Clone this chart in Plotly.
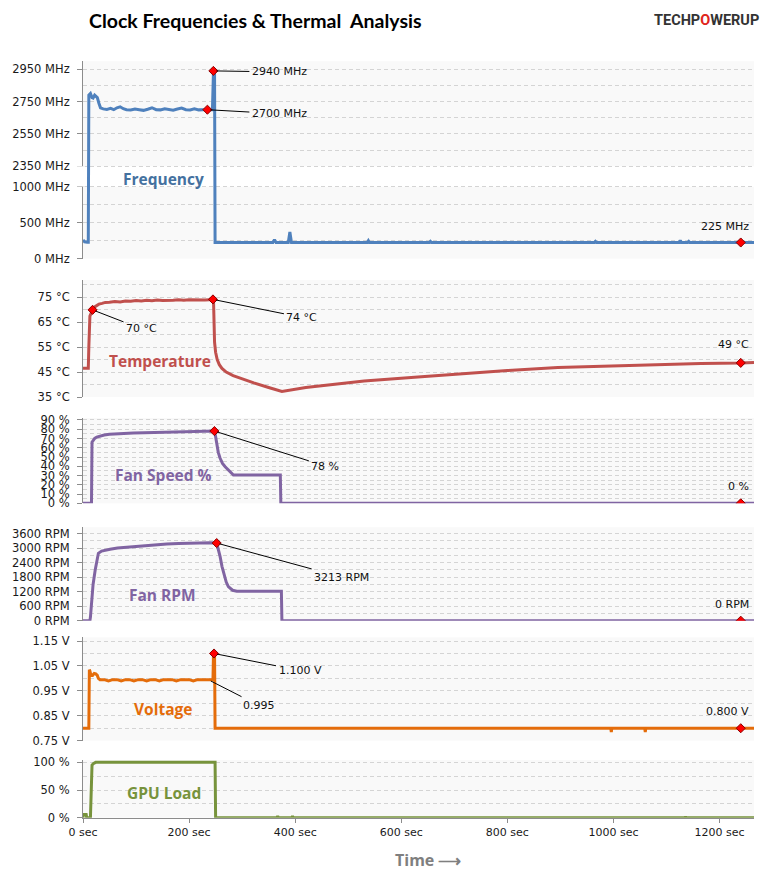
import plotly.graph_objects as go

W, H = 769, 881

# ---------------- data (time in seconds) ----------------
freq_points = [(0, 260), (3, 235), (8, 230), (10, 230), (11, 2790), (12, 2795), (14, 2800), (17, 2775),
               (19, 2772), (22, 2790), (24, 2785), (27, 2775), (30, 2740), (33, 2712), (38, 2705),
               (45, 2702), (52, 2708), (58, 2700), (64, 2712), (70, 2718), (76, 2706), (82, 2700),
               (90, 2698), (98, 2704), (106, 2700), (114, 2696), (122, 2703), (130, 2712), (138, 2700),
               (146, 2699), (154, 2706), (162, 2702), (170, 2697), (178, 2704), (186, 2710), (194, 2700),
               (202, 2698), (210, 2705), (218, 2699), (226, 2700), (234, 2700), (244, 2700), (246, 2940),
               (248, 2940), (249, 225), (255, 225), (300, 225), (358, 225), (361, 265), (364, 225),
               (387, 225), (390, 370), (393, 225), (536, 225), (538, 250), (540, 225), (653, 225),
               (655, 240), (657, 225), (964, 225), (966, 240), (968, 225), (1124, 225), (1126, 255),
               (1128, 225), (1140, 225), (1142, 240), (1144, 225), (1240, 225), (1265, 225)]

temp_points = [(0, 46.5), (10, 46.5), (11, 55), (12, 65), (13, 67.5), (15, 68.5), (18, 70), (22, 71.2),
               (26, 71.8), (30, 72.3), (36, 72.6), (42, 73.0), (50, 73.1), (60, 73.4), (70, 73.2),
               (80, 73.6), (90, 73.5), (100, 73.8), (110, 73.6), (120, 73.9), (130, 73.7), (140, 74.0),
               (150, 73.8), (160, 74.0), (170, 73.9), (180, 74.1), (190, 73.9), (200, 74.1), (210, 74.0),
               (220, 74.2), (230, 74.0), (238, 74.1), (246, 74.2), (248, 57), (250, 53), (253, 50),
               (257, 48), (262, 46.5), (270, 45), (283, 43.6), (300, 42.2), (322, 40.7), (350, 38.8),
               (375, 37.2), (420, 38.8), (470, 40.1), (530, 41.4), (625, 42.9), (700, 44.1), (800, 45.6),
               (895, 46.9), (1000, 47.6), (1100, 48.1), (1165, 48.5), (1240, 48.7), (1265, 48.9)]

fan_points = [(0, 0), (16, 0), (17, 66), (19, 68), (22, 70), (26, 71.5), (32, 72.7), (40, 73.8),
              (50, 74.6), (65, 75.2), (80, 75.6), (95, 75.9), (115, 76.3), (135, 76.6), (158, 77.0),
              (180, 77.4), (200, 77.8), (225, 78), (248, 78), (250, 72), (252, 65), (255, 55),
              (258.5, 48.6), (263, 43), (268, 39.5), (275, 35), (283.6, 30.6), (290, 30.5),
              (372, 30.5), (373, 0), (1265, 0)]

rpm_points = [(0, 0), (13, 0), (14, 150), (16, 850), (19, 1500), (23, 2100), (26, 2500), (29, 2790),
              (35, 2880), (42, 2920), (51, 2960), (65, 3010), (80, 3040), (95, 3065), (120, 3110),
              (140, 3150), (158, 3175), (180, 3200), (200, 3215), (221, 3228), (240, 3225), (252, 3213),
              (255, 3000), (258.5, 2650), (262, 2250), (265, 1960), (270, 1600), (274, 1410),
              (282, 1260), (290, 1220), (374, 1220), (375, 0), (1265, 0)]

volt_points = [(0, 0.80), (10, 0.80), (11, 0.80), (12, 1.035), (13, 1.03), (15, 1.012), (18, 1.012),
               (21, 1.02), (24, 1.018), (27, 1.012), (29, 1.0), (32, 0.995), (40, 0.995), (48, 0.99),
               (56, 0.995), (64, 0.995), (72, 0.99), (80, 0.995), (88, 0.995), (96, 0.99), (104, 0.995),
               (112, 0.995), (120, 0.99), (128, 0.995), (136, 0.995), (144, 0.99), (152, 0.995),
               (160, 0.995), (168, 0.995), (176, 0.99), (184, 0.995), (192, 0.995), (200, 0.995),
               (208, 0.99), (216, 0.995), (224, 0.995), (232, 0.995), (240, 0.995), (245, 0.995),
               (246, 1.10), (248, 1.10), (249, 0.80), (400, 0.80), (995, 0.80), (996, 0.785),
               (997, 0.80), (1059, 0.80), (1060, 0.785), (1061, 0.80), (1265, 0.80)]

gpu_points = [(0, 0), (1, 6), (6, 6), (7, 0), (14, 0), (17, 95), (20, 98), (24, 100), (249, 100),
              (250, 0), (366, 0), (367, 3), (368, 0), (394, 0), (395, 3), (396, 0), (1135, 0),
              (1136, 2), (1137, 0), (1265, 0)]

# highlighted points (red diamonds)
freq_marks = [(234.5, 2700), (245.8, 2940), (1240, 225)]
temp_marks = [(18, 70), (245, 74.2), (1240, 48.7)]
fan_marks = [(247.7, 78), (1240, 0)]
rpm_marks = [(252, 3213), (1240, 0)]
volt_marks = [(247, 1.10), (1240, 0.80)]

# tick values
time_ticks = [0, 200, 400, 600, 800, 1000, 1200]
freq_ticks = [0, 500, 1000, 2350, 2550, 2750, 2950]
freq_minor = [250, 750, 2450, 2650, 2850]
temp_ticks = [35, 45, 55, 65, 75]
temp_minor = [40, 50, 60, 70, 80]
fan_ticks = [0, 10, 20, 30, 40, 50, 60, 70, 80, 90]
fan_minor = [5, 15, 25, 35, 45, 55, 65, 75, 85]
rpm_ticks = [0, 600, 1200, 1800, 2400, 3000, 3600]
rpm_minor = [300, 900, 1500, 2100, 2700, 3300]
volt_ticks = [0.75, 0.85, 0.95, 1.05, 1.15]
volt_minor = [0.80, 0.90, 1.00, 1.10]
gpu_ticks = [0, 50, 100]
gpu_minor = [25, 75]

# ---------------- broken frequency axis ----------------
GAP = 283.3
TOP_K = 2.2454


def fx(v):
    if v <= 1000:
        return v
    if v < 2350:
        return 1000 + (v - 1000) * GAP / 1350
    return 1000 + GAP + (v - 2350) * TOP_K


def unzip(pts):
    return [p[0] for p in pts], [p[1] for p in pts]


def py(px):
    return 1 - px / H


def pxx(px):
    return px / W


C_FREQ, C_TEMP, C_FAN, C_VOLT, C_GPU = '#4f81bd', '#c0504d', '#8064a2', '#e46c0a', '#77933c'
GRID = '#d4d4d4'
AXC = '#8c8c8c'
TICKF = dict(family='DejaVu Sans', size=11.5, color='#1a1a1a')

fig = go.Figure()


def add_series(pts, color, yax, transform=None):
    t, v = unzip(pts)
    if transform:
        v = [transform(a) for a in v]
    fig.add_trace(go.Scatter(x=t, y=v, mode='lines', yaxis=yax, xaxis='x',
                             line=dict(color=color, width=3), hoverinfo='skip', showlegend=False))


def add_marks(pts, yax, transform=None):
    t, v = unzip(pts)
    if transform:
        v = [transform(a) for a in v]
    fig.add_trace(go.Scatter(x=t, y=v, mode='markers', yaxis=yax, xaxis='x',
                             marker=dict(symbol='diamond', size=7, color='#ff0000',
                                         line=dict(color='#8b0000', width=1)),
                             hoverinfo='skip', showlegend=False))


add_series(freq_points, C_FREQ, 'y', fx)
add_series(temp_points, C_TEMP, 'y2')
add_series(fan_points, C_FAN, 'y3')
add_series(rpm_points, C_FAN, 'y4')
add_series(volt_points, C_VOLT, 'y5')
add_series(gpu_points, C_GPU, 'y6')
add_marks(freq_marks, 'y', fx)
add_marks(temp_marks, 'y2')
add_marks(fan_marks, 'y3')
add_marks(rpm_marks, 'y4')
add_marks(volt_marks, 'y5')


def yaxis(dom_px, rng, ticks, texts, minor):
    return dict(domain=[py(dom_px[1]), py(dom_px[0])], range=rng, anchor='x', automargin=False,
                tickmode='array', tickvals=ticks, ticktext=texts,
                showline=True, linecolor=AXC, linewidth=1,
                ticks='outside', ticklen=5, tickcolor=AXC, ticklabelstandoff=5,
                tickfont=TICKF, showgrid=True, gridcolor=GRID, griddash='4px,3px', gridwidth=1,
                zeroline=False, fixedrange=True,
                minor=dict(tickmode='array', tickvals=minor, showgrid=True, gridcolor=GRID,
                           griddash='4px,3px', ticklen=0))


X0, X1 = 83, 754
layout = dict(
    width=W, height=H, margin=dict(l=0, r=0, t=0, b=0, autoexpand=False),
    paper_bgcolor='white', plot_bgcolor='#f9f9f9',
    xaxis=dict(domain=[pxx(X0), pxx(X1)], range=[0, 1265], anchor='y6', automargin=False,
               tickmode='array', tickvals=time_ticks, ticktext=[f'{v} sec' for v in time_ticks],
               showline=True, linecolor=AXC, ticks='outside', ticklen=4, tickcolor=AXC,
               tickfont=dict(family='DejaVu Sans', size=11, color='#1a1a1a'),
               showgrid=False, zeroline=False, fixedrange=True),
    yaxis=yaxis((61.2, 258.7), [0, fx(3000)], [fx(v) for v in freq_ticks],
                [f'{v} MHz' for v in freq_ticks], [fx(v) for v in freq_minor]),
    yaxis2=yaxis((280, 397), [35, 82], temp_ticks, [f'{v} °C' for v in temp_ticks], temp_minor),
    yaxis3=yaxis((418.1, 503.3), [0, 92], fan_ticks, [f'{v} %' for v in fan_ticks], fan_minor),
    yaxis4=yaxis((527.2, 620.7), [0, 3870], rpm_ticks, [f'{v} RPM' for v in rpm_ticks], rpm_minor),
    yaxis5=yaxis((637.3, 740.7), [0.75, 1.165], volt_ticks, [f'{v:.2f} V' for v in volt_ticks], volt_minor),
    yaxis6=yaxis((760.1, 817.7), [0, 104], gpu_ticks, [f'{v} %' for v in gpu_ticks], gpu_minor),
)
fig.update_layout(**layout)

# white band of the broken axis
fig.add_shape(type='rect', xref='paper', yref='y', x0=pxx(X0), x1=pxx(X1), y0=1000, y1=1000 + GAP,
              fillcolor='white', line_width=0, layer='below')
fig.add_shape(type='rect', xref='paper', yref='y', x0=pxx(70), x1=pxx(85), y0=1001, y1=1000 + GAP - 1,
              fillcolor='white', line_width=0, layer='above')

ann = []
AF = dict(family='DejaVu Sans', size=11, color='#111111')


def leader(x, y, yref, text, ax, ay):
    ann.append(dict(x=x, y=y, xref='x', yref=yref, text=text, showarrow=True, arrowhead=0,
                    arrowwidth=1, arrowcolor='#000000', ax=ax, ay=ay, font=AF, borderpad=2,
                    standoff=3))


def endlabel(x, y, yref, text, yshift):
    ann.append(dict(x=x, y=y, xref='x', yref=yref, text=text, showarrow=False, xanchor='right',
                    yanchor='middle', xshift=10, yshift=yshift, font=AF))


leader(freq_marks[1][0], fx(freq_marks[1][1]), 'y', '2940 MHz', 66, 1)
leader(freq_marks[0][0], fx(freq_marks[0][1]), 'y', '2700 MHz', 72, 4)
endlabel(freq_marks[2][0], fx(freq_marks[2][1]), 'y', '225 MHz', 16.5)
leader(temp_marks[0][0], temp_marks[0][1], 'y2', '70 °C', 49, 19)
leader(temp_marks[1][0], temp_marks[1][1], 'y2', '74 °C', 89, 18)
endlabel(temp_marks[2][0], temp_marks[2][1], 'y2', '49 °C', 18)
leader(fan_marks[0][0], fan_marks[0][1], 'y3', '78 %', 111, 35)
endlabel(fan_marks[1][0], fan_marks[1][1], 'y3', '0 %', 16.5)
leader(rpm_marks[0][0], rpm_marks[0][1], 'y4', '3213 RPM', 125, 34)
endlabel(rpm_marks[1][0], rpm_marks[1][1], 'y4', '0 RPM', 16)
leader(volt_marks[0][0], volt_marks[0][1], 'y5', '1.100 V', 86, 17)
leader(236, 0.995, 'y5', '0.995', 51, 26)
endlabel(volt_marks[1][0], volt_marks[1][1], 'y5', '0.800 V', 16.5)

LF = 'Open Sans'
for text, cx, cy, col in [('Frequency', 163.5, 179.3, '#44719f'), ('Temperature', 160, 360.7, C_TEMP),
                          ('Fan Speed %', 163.5, 475, C_FAN), ('Fan RPM', 162.5, 595, C_FAN),
                          ('Voltage', 163, 709, C_VOLT), ('GPU Load', 163.5, 793, C_GPU)]:
    ann.append(dict(x=pxx(cx), y=py(cy), xref='paper', yref='paper', text=f'<b>{text}</b>',
                    showarrow=False, xanchor='center', yanchor='middle',
                    font=dict(family=LF, size=15.5, color=col)))

ann.append(dict(x=pxx(87), y=py(20), xref='paper', yref='paper',
                text='<b>Clock Frequencies &amp; Thermal  Analysis</b>', showarrow=False,
                xanchor='left', yanchor='middle', font=dict(family='Lato', size=19.5, color='#000000')))
ann.append(dict(x=pxx(761), y=py(20), xref='paper', yref='paper',
                text="<b>TECHP<span style='color:#e0251b'>O</span>WERUP</b>", showarrow=False,
                xanchor='right', yanchor='middle', font=dict(family='Roboto', size=14.5, color='#333333')))
ann.append(dict(x=pxx(428), y=py(860), xref='paper', yref='paper', text='<b>Time ⟶</b>',
                showarrow=False, xanchor='center', yanchor='middle',
                font=dict(family='Open Sans', size=16, color='#7f7f7f')))

fig.update_layout(annotations=ann)
fig.write_html('out.html')
